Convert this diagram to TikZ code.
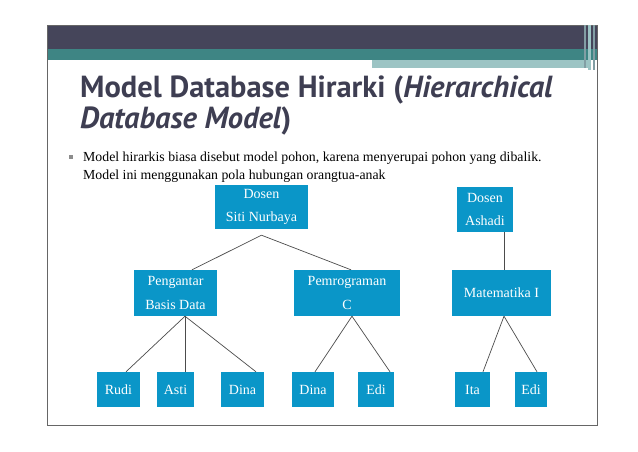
\documentclass[tikz,border=0pt]{standalone}
\usepackage{fontspec}
\setmainfont{Liberation Serif}
\newfontfamily\titlefont{PT Sans}
\definecolor{boxblue}{HTML}{0A96C8}
\definecolor{darkbar}{HTML}{45455A}
\definecolor{tealbar}{HTML}{3E8584}
\definecolor{lightteal}{HTML}{9CC4C4}
\definecolor{titlecol}{HTML}{3E3E52}
\begin{document}
\begin{tikzpicture}[x=1pt,y=-1pt,
  bx/.style={fill=boxblue,text=white,inner sep=0pt,font=\fontsize{14}{16}\selectfont,align=center},
  ln/.style={draw=black!70,line width=0.7pt}]
\useasboundingbox (0,0) rectangle (638,451);
\fill[white] (0,0) rectangle (638,451);
% frame and bars
\fill[darkbar] (47,25) rectangle (597,49);
\fill[tealbar] (47,49) rectangle (597,60);
\fill[lightteal] (372,60) rectangle (590,68);
\draw[black!60,line width=0.6pt] (47,25) rectangle (597,425);
\fill[lightteal!70!darkbar] (584,25) rectangle (586,68);
\fill[lightteal] (588,25) rectangle (591,70);
\fill[lightteal!70!darkbar] (593,25) rectangle (595,70);
% title
\node[anchor=base west,inner sep=0pt,text=titlecol,font=\titlefont\bfseries\fontsize{30.5}{32}\selectfont] (t1) at (80,97) {Model Database Hirarki (\textit{Hierarchical}};
\node[anchor=base west,inner sep=0pt,text=titlecol,font=\titlefont\bfseries\fontsize{30.5}{32}\selectfont] (t2) at (80,128) {\textit{Database Model})};
% bullet
\node[fill=black!45,inner sep=0pt,minimum size=3.5pt] (b) at (71,157) {};
\node[anchor=base west,inner sep=0pt,font=\fontsize{13.8}{16}\selectfont] (l1) at (83,161) {Model hirarkis biasa disebut model pohon, karena menyerupai pohon yang dibalik.};
\node[anchor=base west,inner sep=0pt,font=\fontsize{13.8}{16}\selectfont] (l2) at (83,179) {Model ini menggunakan pola hubungan orangtua-anak};
% boxes
\newcommand{\bxnode}[6]{\node[bx,minimum width=#4-#2,minimum height=#5-#3] (#1) at ({(#2+#4)/2},{(#3+#5)/2}) {#6};}
\bxnode{sn}{215}{185}{308}{229}{Dosen\\[7pt]Siti Nurbaya}
\bxnode{as}{457}{187}{513}{232}{Dosen\\[7pt]Ashadi}
\bxnode{pbd}{134}{270}{217}{316}{Pengantar\\[8pt]Basis Data}
\bxnode{pc}{294}{270}{400}{316}{Pemrograman\\[8pt]C}
\bxnode{mat}{452}{270}{551}{316}{Matematika I}
\bxnode{rudi}{97}{372}{140}{407}{Rudi}
\bxnode{asti}{157}{372}{194}{407}{Asti}
\bxnode{dina}{221}{372}{264}{407}{Dina}
\bxnode{dina2}{292}{372}{334}{407}{Dina}
\bxnode{edi}{358}{372}{394}{407}{Edi}
\bxnode{ita}{455}{372}{490}{407}{Ita}
\bxnode{edi2}{515}{372}{547}{407}{Edi}
% connectors
\coordinate (snb) at ([yshift=-6pt]sn.south);
\draw[ln] (snb) -- ([xshift=16.5pt]pbd.north);
\draw[ln] (snb) -- ([xshift=4pt]pc.north);
\coordinate (pbdb) at ([xshift=9.5pt]pbd.south);
\draw[ln] (pbdb) -- ([xshift=7.5pt]rudi.north);
\draw[ln] (pbdb) -- ([xshift=9.5pt]asti.north);
\draw[ln] (pbdb) -- ([xshift=13.5pt]dina.north);
\coordinate (pcb) at ([xshift=5pt]pc.south);
\draw[ln] (pcb) -- ([xshift=2pt]dina2.north);
\draw[ln] (pcb) -- ([xshift=14pt]edi.north);
\coordinate (matb) at ([xshift=2.5pt]mat.south);
\draw[ln] (matb) -- ([xshift=10.5pt]ita.north);
\draw[ln] (matb) -- ([xshift=6pt]edi2.north);
\draw[ln] ([xshift=2.5pt]mat.north) -- ([xshift=2.5pt]mat.north |- as.south);
\end{tikzpicture}
\end{document}
